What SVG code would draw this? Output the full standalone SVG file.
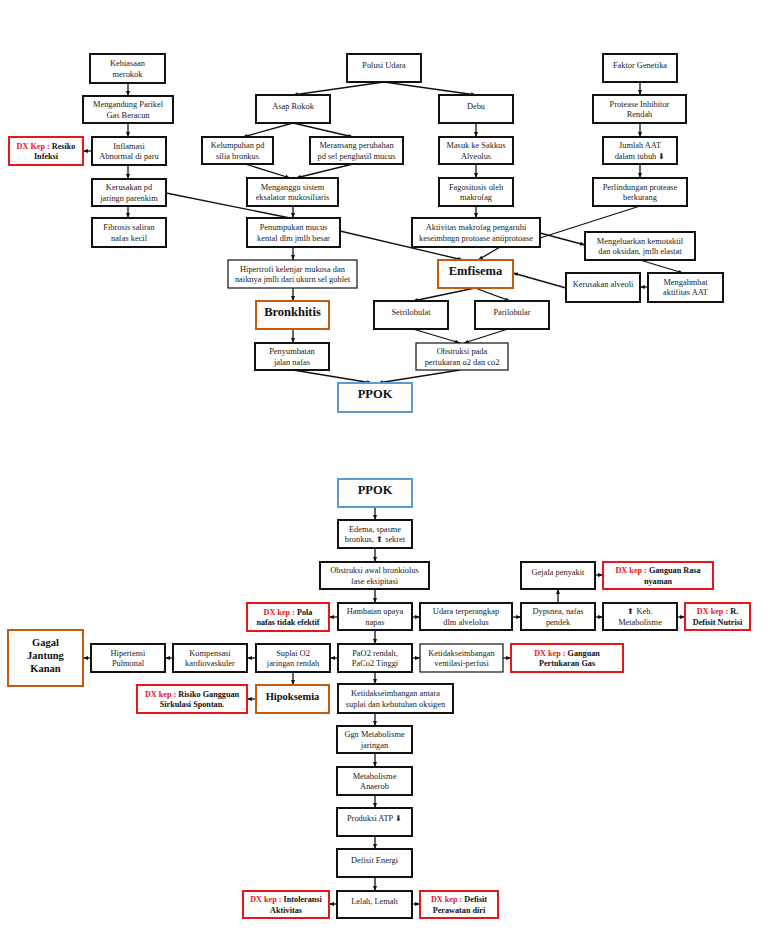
<svg xmlns="http://www.w3.org/2000/svg" width="768" height="932" viewBox="0 0 768 932">
<defs>
<marker id="a" viewBox="0 0 10 10" refX="10" refY="5" markerWidth="5" markerHeight="5" orient="auto" markerUnits="userSpaceOnUse"><path d="M0,1 L10,5 L0,9z" fill="#111"/></marker>
<style>
rect{fill:#fff;stroke:#111;stroke-width:2}
rect.th{stroke-width:1.2}
rect.r{stroke:#e8161b}
rect.o{stroke:#c55a11}
rect.b{stroke:#5b9bd5}
text{font-family:"Liberation Serif","Times New Roman",serif;font-size:8.4px;fill:#222;text-anchor:middle}
text.t{font-size:12.5px;font-weight:bold;fill:#111}
text.m{font-size:10.5px;font-weight:bold;fill:#111}
text.d{font-size:8.2px;font-weight:bold;fill:#111}
tspan.rd{fill:#e8161b}
#conn line,#conn polyline{stroke:#111;stroke-width:1.3;fill:none}
</style>
</defs>
<rect x="0" y="0" width="768" height="932" style="fill:#fff;stroke:none"/>

<g id="conn">
<line x1="128" y1="83" x2="128" y2="96" marker-end="url(#a)"/>
<line x1="128" y1="123" x2="128" y2="137" marker-end="url(#a)"/>
<line x1="92" y1="151" x2="83" y2="151" marker-end="url(#a)"/>
<line x1="128" y1="165" x2="128" y2="179" marker-end="url(#a)"/>
<line x1="128" y1="206" x2="128" y2="218" marker-end="url(#a)"/>
<line x1="166" y1="193" x2="290" y2="218"/>
<line x1="384" y1="82" x2="293" y2="95" marker-end="url(#a)"/>
<line x1="384" y1="82" x2="476" y2="95" marker-end="url(#a)"/>
<line x1="293" y1="123" x2="243" y2="137" marker-end="url(#a)"/>
<line x1="293" y1="123" x2="353" y2="137" marker-end="url(#a)"/>
<line x1="245" y1="164" x2="290" y2="178" marker-end="url(#a)"/>
<line x1="353" y1="164" x2="296" y2="178" marker-end="url(#a)"/>
<line x1="293" y1="206" x2="293" y2="218" marker-end="url(#a)"/>
<line x1="293" y1="247" x2="293" y2="260" marker-end="url(#a)"/>
<line x1="293" y1="288" x2="293" y2="301" marker-end="url(#a)"/>
<line x1="293" y1="329" x2="293" y2="343" marker-end="url(#a)"/>
<line x1="293" y1="370" x2="372" y2="383" marker-end="url(#a)"/>
<line x1="460" y1="370" x2="378" y2="383" marker-end="url(#a)"/>
<line x1="476" y1="123" x2="476" y2="137" marker-end="url(#a)"/>
<line x1="476" y1="164" x2="476" y2="178" marker-end="url(#a)"/>
<line x1="476" y1="206" x2="476" y2="218" marker-end="url(#a)"/>
<line x1="340" y1="231" x2="463" y2="260" marker-end="url(#a)"/>
<line x1="500" y1="247" x2="478" y2="260" marker-end="url(#a)"/>
<line x1="475" y1="288" x2="413" y2="301" marker-end="url(#a)"/>
<line x1="475" y1="288" x2="510" y2="301" marker-end="url(#a)"/>
<line x1="413" y1="329" x2="460" y2="343" marker-end="url(#a)"/>
<line x1="508" y1="329" x2="464" y2="343" marker-end="url(#a)"/>
<line x1="640" y1="82" x2="640" y2="95" marker-end="url(#a)"/>
<line x1="640" y1="123" x2="640" y2="137" marker-end="url(#a)"/>
<line x1="640" y1="164" x2="640" y2="178" marker-end="url(#a)"/>
<line x1="640" y1="206" x2="540" y2="238"/>
<line x1="540" y1="233" x2="585" y2="245" marker-end="url(#a)"/>
<line x1="640" y1="260" x2="683" y2="273" marker-end="url(#a)"/>
<line x1="648" y1="287" x2="640" y2="287" marker-end="url(#a)"/>
<line x1="566" y1="288" x2="513" y2="273" marker-end="url(#a)"/>

<line x1="375" y1="507" x2="375" y2="520" marker-end="url(#a)"/>
<line x1="375" y1="548" x2="375" y2="562" marker-end="url(#a)"/>
<line x1="375" y1="589" x2="375" y2="603" marker-end="url(#a)"/>
<line x1="375" y1="630" x2="375" y2="644" marker-end="url(#a)"/>
<line x1="375" y1="672" x2="375" y2="684" marker-end="url(#a)"/>
<line x1="375" y1="713" x2="375" y2="726" marker-end="url(#a)"/>
<line x1="375" y1="753" x2="375" y2="767" marker-end="url(#a)"/>
<line x1="375" y1="795" x2="375" y2="808" marker-end="url(#a)"/>
<line x1="375" y1="836" x2="375" y2="849" marker-end="url(#a)"/>
<line x1="375" y1="877" x2="375" y2="891" marker-end="url(#a)"/>
<line x1="338" y1="617" x2="329" y2="617" marker-end="url(#a)"/>
<line x1="412" y1="617" x2="420" y2="617" marker-end="url(#a)"/>
<line x1="512" y1="617" x2="521" y2="617" marker-end="url(#a)"/>
<line x1="595" y1="617" x2="603" y2="617" marker-end="url(#a)"/>
<line x1="677" y1="617" x2="685" y2="617" marker-end="url(#a)"/>
<line x1="558" y1="603" x2="558" y2="589" marker-end="url(#a)"/>
<line x1="595" y1="575" x2="603" y2="575" marker-end="url(#a)"/>
<line x1="338" y1="658" x2="330" y2="658" marker-end="url(#a)"/>
<line x1="256" y1="658" x2="247" y2="658" marker-end="url(#a)"/>
<line x1="173" y1="658" x2="165" y2="658" marker-end="url(#a)"/>
<line x1="91" y1="658" x2="83" y2="658" marker-end="url(#a)"/>
<line x1="412" y1="658" x2="420" y2="658" marker-end="url(#a)"/>
<line x1="503" y1="658" x2="511" y2="658" marker-end="url(#a)"/>
<line x1="293" y1="672" x2="293" y2="685" marker-end="url(#a)"/>
<line x1="256" y1="699" x2="247" y2="699" marker-end="url(#a)"/>
<line x1="337" y1="904" x2="329" y2="904" marker-end="url(#a)"/>
<line x1="412" y1="904" x2="420" y2="904" marker-end="url(#a)"/>
</g>

<!-- top -->
<g id="kebiasaan"><rect x="90" y="54" width="75" height="29"/><text x="127.5" y="66">Kebiasaan</text><text x="127.5" y="76.5">merokok</text></g>
<g id="mengandung"><rect x="83" y="96" width="90" height="27"/><text x="128" y="107">Mengandung Parikel</text><text x="128" y="117.5">Gas Beracun</text></g>
<g id="inflamasi"><rect x="92" y="137" width="74" height="28"/><text x="129" y="148.5">Inflamasi</text><text x="129" y="159">Abnormal di paru</text></g>
<g id="dx-infeksi"><rect class="r" x="9" y="137" width="74" height="28"/><text class="d" x="46" y="148.5"><tspan class="rd">DX Kep :</tspan> Resiko</text><text class="d" x="46" y="159">Infeksi</text></g>
<g id="kerusakan-parenkim"><rect x="92" y="179" width="74" height="27"/><text x="129" y="190">Kerusakan pd</text><text x="129" y="200.5">jaringn parenkim</text></g>
<g id="fibrosis"><rect x="92" y="218" width="74" height="29"/><text x="129" y="230">Fibrosis saliran</text><text x="129" y="240.5">nafas kecil</text></g>

<g id="polusi"><rect x="347" y="54" width="74" height="28"/><text x="384" y="68">Polusi Udara</text></g>
<g id="asap"><rect x="256" y="95" width="74" height="28"/><text x="293" y="108.5">Asap Rokok</text></g>
<g id="debu"><rect x="439" y="95" width="74" height="28"/><text x="476" y="108.5">Debu</text></g>
<g id="kelumpuhan"><rect x="202" y="137" width="71" height="27"/><text x="237.5" y="148">Kelumpuhan pd</text><text x="237.5" y="158.5">silia bronkus</text></g>
<g id="meransang"><rect x="310" y="137" width="93" height="27"/><text x="356.5" y="148">Meransang perubahan</text><text x="356.5" y="158.5">pd sel penghasil mucus</text></g>
<g id="masuk"><rect x="439" y="137" width="74" height="27"/><text x="476" y="148">Masuk ke Sakkus</text><text x="476" y="158.5">Alveolus</text></g>
<g id="menganggu"><rect x="247" y="178" width="91" height="28"/><text x="292.5" y="189.5">Menganggu sistem</text><text x="292.5" y="200">eksalator mukosiliaris</text></g>
<g id="fagositosis"><rect x="439" y="178" width="74" height="28"/><text x="476" y="189.5">Fagositosis oleh</text><text x="476" y="200">makrofag</text></g>
<g id="penumpukan"><rect x="247" y="218" width="93" height="29"/><text x="293.5" y="230">Penumpukan mucus</text><text x="293.5" y="240.5">kental dlm jmlh besar</text></g>
<g id="aktivitas"><rect x="412" y="218" width="128" height="29"/><text x="476" y="230">Aktivitas makrofag pengaruhi</text><text x="476" y="240.5">keseimbngn protoase antiprotoase</text></g>

<g id="faktor"><rect x="603" y="54" width="74" height="28"/><text x="640" y="68">Faktor Genetika</text></g>
<g id="protease"><rect x="593" y="95" width="93" height="28"/><text x="639.5" y="106.5">Protease Inhibitor</text><text x="639.5" y="117">Rendah</text></g>
<g id="jumlah"><rect x="603" y="137" width="74" height="27"/><text x="640" y="148">Jumlah AAT</text><text x="640" y="158.5">dalam tubuh ⬇</text></g>
<g id="perlindungan"><rect x="593" y="178" width="94" height="28"/><text x="640" y="189.5">Perlindungan protease</text><text x="640" y="200">berkurang</text></g>
<g id="mengeluarkan"><rect x="585" y="232" width="110" height="28"/><text x="640" y="243.5">Mengeluarkan kemotaktil</text><text x="640" y="254">dan oksidan, jmlh elastat</text></g>

<g id="hipertrofi"><rect class="th" x="228" y="260" width="129" height="28"/><text x="292.5" y="271.5">Hipertrofi kelenjar mukosa dan</text><text x="292.5" y="282">naiknya jmlh dari ukurn sel goblet</text></g>
<g id="emfisema"><rect class="o" x="438" y="260" width="75" height="28"/><text class="t" x="475.5" y="274.5">Emfisema</text></g>
<g id="kerusakan-alveoli"><rect x="566" y="273" width="74" height="29"/><text x="603" y="286.5">Kerusakan alveoli</text></g>
<g id="mengahmbat"><rect x="648" y="273" width="75" height="29"/><text x="685.5" y="284.5">Mengahmbat</text><text x="685.5" y="295">aktifitas AAT</text></g>
<g id="bronkhitis"><rect class="o" x="256" y="301" width="73" height="28"/><text class="t" x="292.5" y="316">Bronkhitis</text></g>
<g id="setrilobulat"><rect x="374" y="301" width="74" height="28"/><text x="411" y="314.5">Setrilobulat</text></g>
<g id="parilobular"><rect x="475" y="301" width="74" height="28"/><text x="512" y="314.5">Parilobular</text></g>
<g id="penyumbatan"><rect x="255" y="343" width="74" height="27"/><text x="292" y="354">Penyumbatan</text><text x="292" y="364.5">jalan nafas</text></g>
<g id="obstruksi-pertukaran"><rect class="th" x="416" y="343" width="92" height="27"/><text x="462" y="354">Obstruksi pada</text><text x="462" y="364.5">pertukaran o2 dan co2</text></g>
<g id="ppok-1"><rect class="b" x="338" y="383" width="74" height="29"/><text class="t" x="375" y="398">PPOK</text></g>

<!-- bottom -->
<g id="ppok-2"><rect class="b" x="338" y="479" width="74" height="28"/><text class="t" x="375" y="493.5">PPOK</text></g>
<g id="edema"><rect x="338" y="520" width="74" height="28"/><text x="375" y="531.5">Edema, spasme</text><text x="375" y="542">bronkus, ⬆ sekret</text></g>
<g id="obstruksi-awal"><rect x="320" y="562" width="109" height="27"/><text x="374.5" y="573">Obstruksi awal bronkiolus</text><text x="374.5" y="583.5">fase eksipitasi</text></g>
<g id="gejala"><rect x="521" y="562" width="74" height="27"/><text x="558" y="575">Gejala penyakit</text></g>
<g id="dx-rasa"><rect class="r" x="603" y="562" width="110" height="27"/><text class="d" x="658" y="573"><tspan class="rd">DX kep :</tspan> Ganguan Rasa</text><text class="d" x="658" y="583.5">nyaman</text></g>
<g id="dx-pola"><rect class="r" x="247" y="603" width="82" height="28"/><text class="d" x="288" y="614.5"><tspan class="rd">DX kep :</tspan> Pola</text><text class="d" x="288" y="625">nafas tidak efektif</text></g>
<g id="hambatan"><rect x="338" y="603" width="74" height="27"/><text x="375" y="614">Hambatan upaya</text><text x="375" y="624.5">napas</text></g>
<g id="udara"><rect x="420" y="603" width="92" height="27"/><text x="466" y="614">Udara terperangkap</text><text x="466" y="624.5">dlm alvelolus</text></g>
<g id="dypsnea"><rect x="521" y="603" width="74" height="27"/><text x="558" y="614">Dypsnea, nafas</text><text x="558" y="624.5">pendek</text></g>
<g id="keb"><rect x="603" y="603" width="74" height="27"/><text x="640" y="614">⬆ Keb.</text><text x="640" y="624.5">Metabolisme</text></g>
<g id="dx-nutrisi"><rect class="r" x="685" y="603" width="65" height="27"/><text class="d" x="717.5" y="614"><tspan class="rd">DX kep :</tspan> R.</text><text class="d" x="717.5" y="624.5">Defisit Nutrisi</text></g>

<g id="gagal"><rect class="o" x="8" y="630" width="75" height="56"/><text class="m" x="45.5" y="645.5">Gagal</text><text class="m" x="45.5" y="658.5">Jantung</text><text class="m" x="45.5" y="671.5">Kanan</text></g>
<g id="hipertensi"><rect x="91" y="644" width="74" height="28"/><text x="128" y="655.5">Hipertensi</text><text x="128" y="666">Pulmonal</text></g>
<g id="kompensasi"><rect x="173" y="644" width="74" height="28"/><text x="210" y="655.5">Kompensasi</text><text x="210" y="666">kardiovaskuler</text></g>
<g id="suplai"><rect x="256" y="644" width="74" height="28"/><text x="293" y="655.5">Suplai O2</text><text x="293" y="666">jaringan rendah</text></g>
<g id="pao2"><rect x="338" y="644" width="74" height="28"/><text x="375" y="655.5">PaO2 rendah,</text><text x="375" y="666">PaCo2 Tinggi</text></g>
<g id="ventilasi"><rect class="th" x="420" y="644" width="83" height="28"/><text x="461.5" y="655.5">Ketidakseimbangan</text><text x="461.5" y="666">ventilasi-perfusi</text></g>
<g id="dx-gas"><rect class="r" x="511" y="644" width="112" height="28"/><text class="d" x="567" y="655.5"><tspan class="rd">DX kep :</tspan> Ganguan</text><text class="d" x="567" y="666">Pertukaran Gas</text></g>
<g id="dx-sirkulasi"><rect class="r" x="137" y="685" width="110" height="28"/><text class="d" x="192" y="696.5"><tspan class="rd">DX kep :</tspan> Risiko Gangguan</text><text class="d" x="192" y="707">Sirkulasi Spontan.</text></g>
<g id="hipoksemia"><rect class="o" x="256" y="685" width="73" height="28"/><text class="m" x="292.5" y="699.5">Hipoksemia</text></g>
<g id="ketidak-oksigen"><rect x="338" y="684" width="115" height="29"/><text x="395.5" y="696">Ketidakseimbangan antara</text><text x="395.5" y="706.5">suplai dan kebutuhan oksigen</text></g>
<g id="ggn"><rect x="337" y="726" width="75" height="27"/><text x="374.5" y="737">Ggn Metabolisme</text><text x="374.5" y="747.5">jaringan</text></g>
<g id="anaerob"><rect x="337" y="767" width="75" height="28"/><text x="374.5" y="778.5">Metabolisme</text><text x="374.5" y="789">Anaerob</text></g>
<g id="atp"><rect x="337" y="808" width="75" height="28"/><text x="374.5" y="821">Produksi ATP ⬇</text></g>
<g id="defisit-energi"><rect x="337" y="849" width="75" height="28"/><text x="374.5" y="863">Defisit Energi</text></g>
<g id="lelah"><rect x="337" y="891" width="75" height="27"/><text x="374.5" y="903.5">Lelah, Lemah</text></g>
<g id="dx-intoleransi"><rect class="r" x="243" y="891" width="86" height="27"/><text class="d" x="286" y="902"><tspan class="rd">DX kep :</tspan> Intoleransi</text><text class="d" x="286" y="912.5">Aktivitas</text></g>
<g id="dx-perawatan"><rect class="r" x="420" y="891" width="78" height="27"/><text class="d" x="459" y="902"><tspan class="rd">DX kep :</tspan> Defisit</text><text class="d" x="459" y="912.5">Perawatan diri</text></g>
</svg>
